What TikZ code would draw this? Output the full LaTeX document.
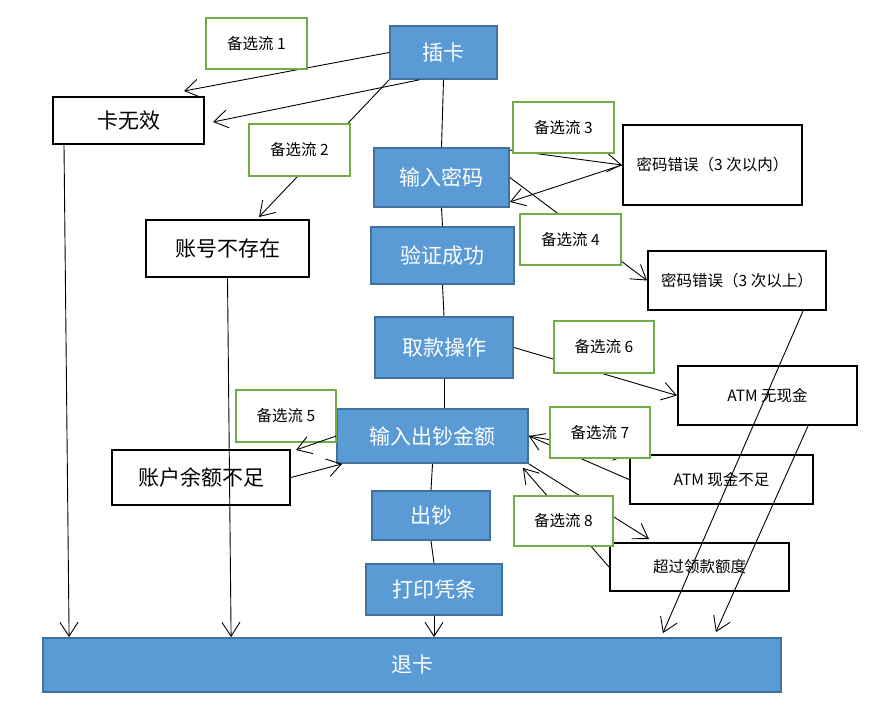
\documentclass[tikz,border=0pt]{standalone}
\usepackage{fontspec}
\setmainfont{Noto Sans CJK SC}
\usetikzlibrary{arrows.meta}
\definecolor{boxblue}{HTML}{5B9BD5}
\definecolor{boxedge}{HTML}{41719C}
\definecolor{altgreen}{HTML}{70AD47}

\begin{document}
\begin{tikzpicture}[x=1pt,y=-1pt,
    bluebox/.style={draw=boxedge,line width=1.8pt,fill=boxblue,text=white,inner sep=0pt,font=\fontsize{21}{25}\selectfont},
    plainbox/.style={draw=black,line width=2pt,fill=white,inner sep=0pt,font=\fontsize{21}{25}\selectfont},
    smallbox/.style={plainbox,font=\fontsize{15.5}{18}\selectfont},
    altbox/.style={draw=altgreen,line width=1.8pt,fill=white,inner sep=0pt,minimum width=100pt,minimum height=51pt,font=\fontsize{15.5}{18}\selectfont},
    flow/.style={line width=0.9pt},
    flowarrow/.style={flow,-{Straight Barb[length=14pt,width=18pt]}}]
  \useasboundingbox (0,0) rectangle (886,706);

  % main flow
  \node[bluebox,minimum width=107pt,minimum height=53pt] (insert) at (443.5,52.5) {插卡};
  \node[bluebox,minimum width=135pt,minimum height=59pt] (pwd) at (441.5,177.5) {输入密码};
  \node[bluebox,minimum width=143pt,minimum height=57pt] (verify) at (442.5,255.5) {验证成功};
  \node[bluebox,minimum width=138pt,minimum height=61pt] (withdraw) at (444,347.5) {取款操作};
  \node[bluebox,minimum width=191pt,minimum height=54pt] (amount) at (432.5,436) {输入出钞金额};
  \node[bluebox,minimum width=118pt,minimum height=49pt] (dispense) at (431,515.5) {出钞};
  \node[bluebox,minimum width=136pt,minimum height=51pt] (receipt) at (434,589.5) {打印凭条};
  \node[bluebox,minimum width=738pt,minimum height=54pt] (eject) at (412,665) {退卡};

  % failure states
  \node[plainbox,minimum width=151pt,minimum height=47pt] (invalid) at (128.5,120.5) {卡无效};
  \node[plainbox,minimum width=163pt,minimum height=57pt] (noacct) at (227.5,248.5) {账号不存在};
  \node[plainbox,minimum width=178pt,minimum height=55pt] (balance) at (201,477.5) {账户余额不足};
  \node[smallbox,minimum width=179pt,minimum height=80pt] (pwdin) at (712.5,165) {密码错误（3 次以内）};
  \node[smallbox,minimum width=178pt,minimum height=59pt] (pwdover) at (737,280.5) {密码错误（3 次以上）};
  \node[smallbox,minimum width=179pt,minimum height=59pt] (nocash) at (767.5,395.5) {ATM 无现金};
  \node[smallbox,minimum width=183pt,minimum height=49pt] (lowcash) at (721.5,479.5) {ATM 现金不足};
  \node[smallbox,minimum width=179pt,minimum height=48pt] (limit) at (699.5,567) {超过领款额度};

  % basic flow links
  \draw[flow] (insert.south) -- (pwd.north);
  \draw[flow] (pwd.south) -- (verify.north);
  \draw[flow] (verify.south) -- (withdraw.north);
  \draw[flow] (withdraw.south) -- (withdraw.south |- amount.north);
  \draw[flow] (amount.south) -- (dispense.north);
  \draw[flow] (dispense.south) -- (receipt.north);
  \draw[flowarrow] (receipt.south) -- (receipt.south |- eject.north);

  % alternative flows
  \draw[flowarrow] (insert.west) -- ([xshift=-21pt,yshift=5pt]invalid.north east);
  \draw[flowarrow] ([xshift=-24.5pt]insert.south) -- ([xshift=8pt,yshift=-1.5pt]invalid.east);
  \draw[flowarrow] (insert.south west) -- ([xshift=31.5pt,yshift=2pt]noacct.north);
  \draw[flowarrow] ([yshift=-3pt]pwd.north east) -- (pwdin.west);
  \draw[flowarrow] (pwdin.west) -- ([yshift=6pt]pwd.south east);
  \draw[flowarrow] (pwd.east) -- (pwdover.west);
  \draw[flowarrow] (balance.east) -- ([xshift=6pt]amount.south west);
  \draw[flowarrow] (withdraw.east) -- (nocash.west);
  \draw[flowarrow] (amount.east) -- (lowcash.north west);
  \draw[flowarrow] (lowcash.west) -- (amount.east);
  \draw[flowarrow] (amount.south east) -- ([xshift=-50.5pt,yshift=3pt]limit.north);
  \draw[flowarrow] (limit.west) -- ([xshift=-6pt,yshift=-4pt]amount.south east);

  % back to eject
  \draw[flowarrow] ([xshift=12pt]invalid.south west) -- ([xshift=27pt]eject.north west);
  \draw[flowarrow] (noacct.south) -- ([xshift=189pt]eject.north west);
  \draw[flowarrow] ([xshift=-24pt]pwdover.south east) -- ([xshift=-119pt,yshift=4pt]eject.north east);
  \draw[flowarrow] ([xshift=-50pt]nocash.south east) -- ([xshift=-66pt,yshift=5pt]eject.north east);

  % labels of the alternative flows
  \node[altbox,minimum width=101pt] (alt1) at (256.5,43.5) {备选流 1};
  \node[altbox,minimum width=101pt,minimum height=52pt] (alt2) at (299.5,150) {备选流 2};
  \node[altbox,minimum width=101pt] (alt3) at (563.5,127.5) {备选流 3};
  \node[altbox,minimum width=101pt] (alt4) at (570.5,239.5) {备选流 4};
  \node[altbox,minimum height=52pt] (alt5) at (286,416) {备选流 5};
  \node[altbox,minimum height=52pt] (alt6) at (604,347) {备选流 6};
  \node[altbox] (alt7) at (600,432.5) {备选流 7};
  \node[altbox,minimum width=99pt,minimum height=50pt] (alt8) at (563.5,521) {备选流 8};

  % drawn over the label box
  \draw[flowarrow] (amount.west) -- ([xshift=5pt,yshift=-1pt]balance.north east);
\end{tikzpicture}
\end{document}
